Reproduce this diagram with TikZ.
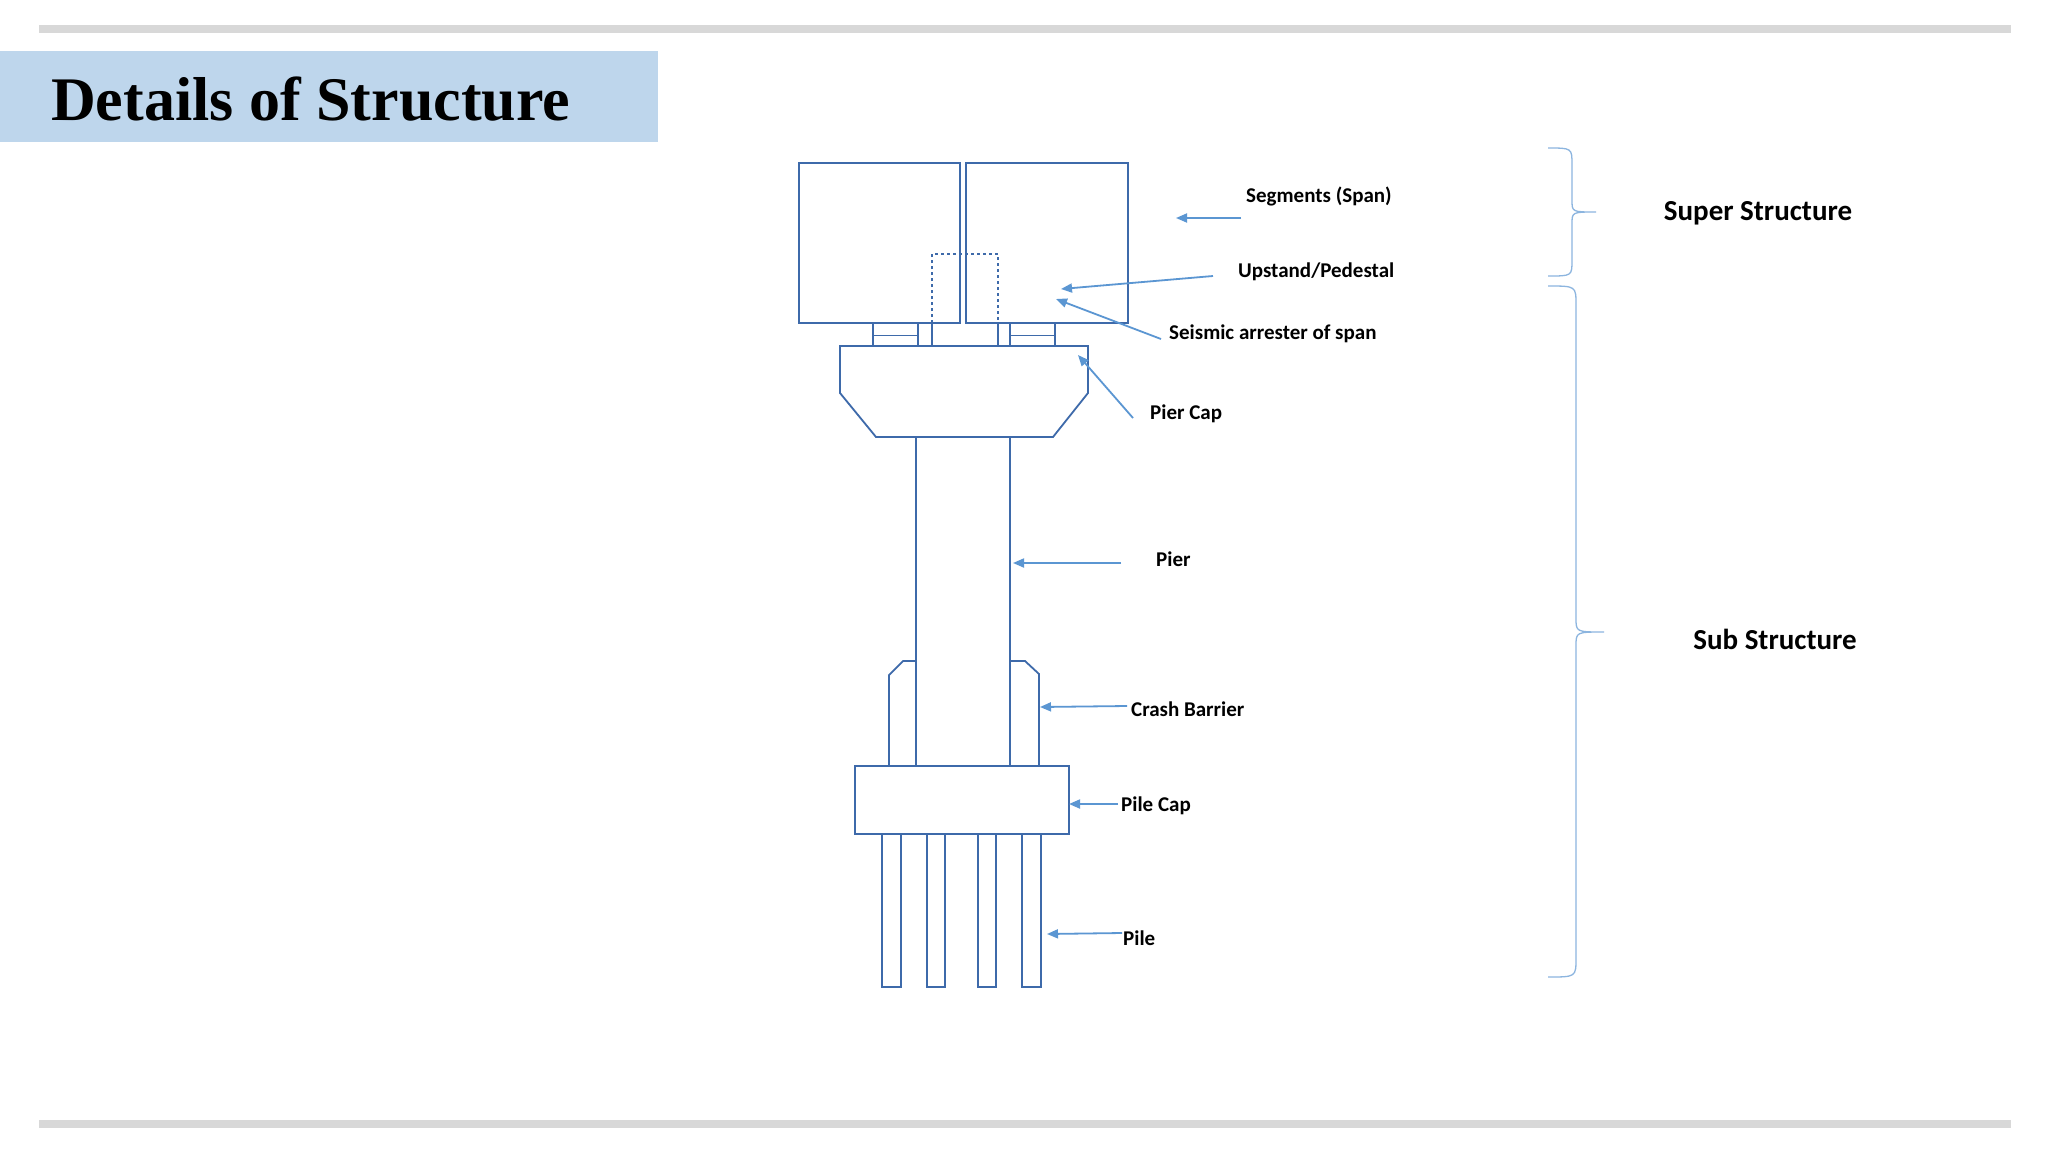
\documentclass[tikz,border=0pt]{standalone}
\usepackage{fontspec}
\setmainfont{Carlito}
\newfontfamily\titlefont{Liberation Serif}
\usetikzlibrary{arrows.meta}
\definecolor{struct}{RGB}{62,106,170}
\definecolor{arr}{RGB}{91,150,210}
\definecolor{titlebg}{RGB}{190,214,236}
\definecolor{rule}{RGB}{216,216,216}
\begin{document}
\begin{tikzpicture}[x=1pt,y=-1pt,
  st/.style={draw=struct,line width=1.8pt},
  ar/.style={draw=arr,line width=1.8pt,-{Triangle[length=11pt,width=9pt]}},
  lab/.style={anchor=west,inner sep=0pt,font=\fontsize{21}{24}\selectfont\bfseries},
  big/.style={inner sep=0pt,font=\fontsize{29}{34}\selectfont\bfseries},
  br/.style={draw=arr!70,line width=1.3pt}]
\useasboundingbox[fill=white] (0,0) rectangle (2048,1152);
\fill[rule] (39,25) rectangle (2011,33);
\fill[rule] (39,1120) rectangle (2011,1128);
\fill[titlebg] (0,51) rectangle (658,142);
\node[inner sep=0pt,anchor=west,font=\titlefont\fontsize{62}{70}\selectfont\bfseries] (title) at (51,99) {Details of Structure};
% structure
\draw[st] (799,163) rectangle (960,323);
\draw[st] (966,163) rectangle (1128,323);
\draw[st,dashed,line width=1.4pt] (932,323) -- (932,254) -- (998,254) -- (998,323);
\draw[st] (932,323) -- (932,346) (998,323) -- (998,346);
\draw[st] (873,323) rectangle (918,346);
\draw[st,line width=1pt] (873,335) -- (918,335);
\draw[st] (1010,323) rectangle (1055,346);
\draw[st,line width=1pt] (1010,335) -- (1055,335);
\draw[st] (840,346) -- (1088,346) -- (1088,393) -- (1053,437) -- (876,437) -- (840,393) -- cycle;
\draw[st] (916,437) -- (916,766) (1010,437) -- (1010,766);
\draw[st] (889,766) -- (889,675) -- (903,661) -- (916,661);
\draw[st] (1010,661) -- (1025,661) -- (1039,674) -- (1039,766);
\draw[st] (855,766) rectangle (1069,834);
\foreach \a/\b in {882/901,927/945,978/996,1022/1041}{\draw[st] (\a,834) rectangle (\b,987);}
% labels
\node[lab] (seg) at (1246,196) {Segments (Span)};
\node[lab] (ups) at (1238,272) {Upstand/Pedestal};
\node[lab] (seis) at (1169,334) {Seismic arrester of span};
\node[lab] (pcap) at (1150,414) {Pier Cap};
\node[lab] (pier) at (1156,559) {Pier};
\node[lab] (crash) at (1131,709) {Crash Barrier};
\node[lab] (pilecap) at (1121,806) {Pile Cap};
\node[lab] (pile) at (1123,938) {Pile};
\coordinate (s1) at (1241,218); \coordinate (s2) at (1176,218);
\coordinate (u1) at (1213,276); \coordinate (u2) at (1061,289);
\coordinate (e1) at (1161,339); \coordinate (e2) at (1056,299);
\coordinate (c1) at (1133,418); \coordinate (c2) at (1078,355);
\coordinate (p1) at (1121,563); \coordinate (p2) at (1013,563);
\coordinate (b1) at (1127,706); \coordinate (b2) at (1040,707);
\coordinate (k1) at (1118,804); \coordinate (k2) at (1069,804);
\coordinate (l1) at (1122,933); \coordinate (l2) at (1047,934);
\draw[ar] (s1) -- (s2);
\draw[ar] (u1) -- (u2);
\draw[ar] (e1) -- (e2);
\draw[ar] (c1) -- (c2);
\draw[ar] (p1) -- (p2);
\draw[ar] (b1) -- (b2);
\draw[ar] (k1) -- (k2);
\draw[ar] (l1) -- (l2);
% braces
\draw[br] (1548,148) .. controls (1572,148) .. (1572,165) -- (1572,200) .. controls (1572,212) .. (1596,212) .. controls (1572,212) .. (1572,224) -- (1572,260) .. controls (1572,276) .. (1548,276);
\draw[br] (1548,286) .. controls (1576,286) .. (1576,305) -- (1576,618) .. controls (1576,632) .. (1604,632) .. controls (1576,632) .. (1576,646) -- (1576,958) .. controls (1576,977) .. (1548,977);
\node[big] (sup) at (1758,213) {Super Structure};
\node[big] (sub) at (1775,639) {Sub Structure};
\end{tikzpicture}
\end{document}
